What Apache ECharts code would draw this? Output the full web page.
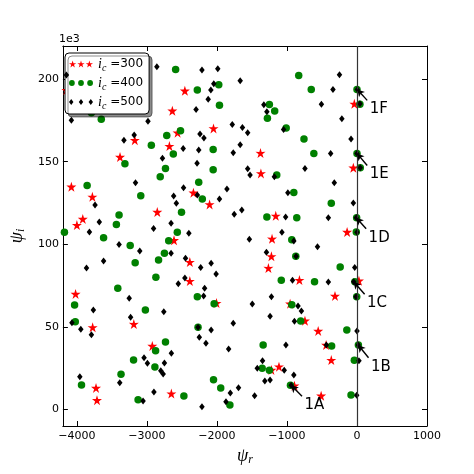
<!DOCTYPE html>
<html><head><meta charset="utf-8">
<script src="https://cdn.jsdelivr.net/npm/echarts@6/dist/echarts.min.js"></script>
<style>html,body{margin:0;padding:0;background:#fff}#c{width:474px;height:474px}</style>
</head><body><div id="c"></div><script>
// values: psi_r (x) and psi_i in units of 1e3 (y)
const ic300_psiR = [-4150,-2458,-2637,-2562,-3173,-2679,-3384,-4079,-2049,-1378,-1372,-38,-52,-3779,-2336,-2105,-2852,-3916,-4000,-2613,-2387,-2387,-4019,-3775,-3187,-1160,-141,-1213,-1222,-1265,-822,28,-314,-2006,-955,-743,-554,-2923,-3727,-3713,-2651,-441,-367,-1222,-1114,-893,-512];
const ic300_psiI = [193.3,192.9,180.8,167.5,163.0,159.4,152.8,134.8,170.1,155.2,142.9,185.0,146.3,128.7,131.2,124.1,119.5,115.3,111.6,102.4,89.2,77.7,69.9,49.7,51.7,117.2,107.4,103.3,92.7,85.6,78.3,77.9,68.7,64.4,64.0,53.7,47.5,38.4,13.0,5.6,9.6,39.0,29.9,23.9,25.9,14.4,8.3];

const ic400_psiR = [-2590,-2280,-3793,-3652,-2520,-2717,-2937,-2623,-3314,-2735,-2810,-2260,-3854,-832,-653,-1974,-1964,-1251,-1175,-1279,-1011,-757,-616,-2054,-2054,-1146,0,42,0,47,-902,-3088,-2209,-3398,-2506,-3436,-2566,-4178,-3619,-2689,-3239,-2750,-3168,-2834,-2872,-3416,-2280,-4033,-3022,-4023,-2270,-367,-1287,-860,-10,-931,-874,-240,-1081,-606,-4,-2040,-931,-804,-145,-5,-30,20,-2735,-2876,-3191,-2886,-3370,-3934,-3126,-2472,-1340,-362,-1354,-1251,-38,-2049,-1946,-1815,-85,-950];
const ic400_psiI = [205.8,193.3,179.6,175.6,168.7,165.9,160.0,154.6,148.7,145.9,140.8,137.6,135.6,202.2,193.7,196.5,184.2,184.6,180.6,176.2,170.3,163.7,155.0,157.4,145.1,141.9,193.7,184.8,155.0,146.3,131.4,129.3,127.4,117.7,119.3,112.0,107.2,107.2,103.9,102.1,99.3,94.5,88.8,90.4,80.0,73.3,68.2,63.2,60.2,53.1,49.7,124.8,116.5,116.0,107.4,102.7,92.7,86.2,78.2,77.3,68.2,64.0,63.4,53.5,48.1,116.0,77.3,39.0,40.8,35.6,29.9,25.7,21.3,14.8,5.9,8.2,39.0,38.4,24.9,23.7,29.8,18.0,13.0,2.7,8.8,14.6];

const ic500_psiR = [-4150,-2858,-2214,-4079,-2985,-2298,-2242,-2186,-3328,-3182,-2482,-2260,-2778,-2284,-3163,-2477,-1988,-1668,-2045,-2087,-2125,-250,-343,5,-1330,-1287,-508,-216,42,-1781,-1636,-1561,-1048,-1668,-1767,-85,-376,0,47,-743,-1561,-1527,-1180,-324,-1857,-2618,-2280,-3741,-2580,-3680,-2655,-2905,-3821,-2401,-3398,-3102,-2655,-2449,-3619,-3863,-2232,-2458,-2552,-2176,-2190,-3253,-3765,-2759,-3233,-4071,-3944,-2270,-987,-1964,-52,-1753,-1645,-1019,-409,-10,-1072,-1537,-902,-564,-1293,-870,-2083,-2012,-32,-921,-409,-47,-1222,-1495,-842,-794,-1241,-1767,-893,-2083,0,-3793,-2252,-2157,-2651,-3041,-2993,-2750,-2802,-2768,-3958,-3388,-2900,-3055,-2214,-1015,-1833,-437,18,-1349,-1424,-1039,28,-902,-1316,-1241,-1692,-1809,-940,-1462,-4,-1871,0,-14];
const ic500_psiI = [202.4,207.4,205.4,175.1,174.5,181.6,166.7,164.3,163.0,166.1,158.0,157.0,152.0,149.0,137.2,134.2,206.2,198.9,197.1,193.3,187.7,202.6,193.7,193.7,184.4,180.2,184.8,175.9,185.0,172.5,170.7,167.5,169.5,160.2,155.4,163.7,155.0,155.0,146.3,145.9,145.7,141.9,140.8,137.2,133.4,129.2,129.8,123.7,124.8,113.4,112.7,109.6,107.4,106.6,99.9,95.9,94.5,91.5,89.8,85.6,86.0,79.6,76.1,73.3,68.7,67.3,60.2,59.2,55.8,52.5,48.5,49.7,131.2,127.4,124.9,118.1,120.7,116.5,116.0,116.0,107.2,103.0,101.9,98.5,95.1,92.7,88.5,82.0,86.0,78.2,77.1,77.3,68.2,63.8,62.6,59.6,56.4,52.2,53.4,48.1,47.5,45.3,43.7,40.1,34.0,31.3,28.0,28.1,23.5,21.5,19.8,16.2,10.6,5.1,1.7,39.0,36.6,39.0,39.0,29.5,24.9,23.7,29.5,20.9,17.2,17.8,13.2,10.0,14.6,8.3,8.6,4.7,107.2,68.2];

const icValues = [300, 400, 500];

// annotations
const annotNames = ['1A','1B','1C','1D','1E','1F'];
const annotPointR = [-940, 18, -47, -10, 0, 5];
const annotPointI = [14.6, 39.0, 77.3, 116.0, 155.0, 193.7];
const annotTailR = [-785, 165, 109, 131, 146, 146];
const annotTailI = [8.0, 31.3, 69.7, 109.4, 147.7, 187.1];
const annotTextR = [-743, 207, 151, 173, 188, 188];
const annotTextI = [6.2, 29.5, 67.9, 107.6, 145.9, 185.3];

const xTicks = [-4000,-3000,-2000,-1000,0,1000];
const yTicks = [0,50,100,150,200];

const pair = (xs, ys) => xs.map((x, i) => [x, ys[i]]);
const fmt = v => (v < 0 ? '\u2212' + (-v) : String(v));

const STAR = 'path://M5 0 L6.12 3.46 L9.76 3.45 L6.81 5.59 L7.94 9.05 L5 6.9 L2.06 9.05 L3.19 5.59 L0.24 3.45 L3.88 3.46 Z';
function starAt(o){return `M${5+o} 0 L${6.12+o} 3.46 L${9.76+o} 3.45 L${6.81+o} 5.59 L${7.94+o} 9.05 L${5+o} 6.9 L${2.06+o} 9.05 L${3.19+o} 5.59 L${0.24+o} 3.45 L${3.88+o} 3.46 Z`;}
function circAt(o){return `M${o} 3.5 A3.5 3.5 0 1 1 ${7+o} 3.5 A3.5 3.5 0 1 1 ${o} 3.5 Z`;}
function diaAt(o){return `M${2.5+o} 0 L${5+o} 3.5 L${2.5+o} 7 L${o} 3.5 Z`;}
const legIcons = [
  'path://' + [0,11,22].map(starAt).join(' '),
  'path://' + [0,11,22].map(circAt).join(' '),
  'path://' + [0,11,22].map(diaAt).join(' ')
];
const colors = ['#ff0000', '#008000', '#000000'];
const names = icValues.map(v => 'ic' + v);

const axisCommon = {
  type: 'value',
  splitLine: {show: false},
  axisLine: {show: true, onZero: false, lineStyle: {color: '#000', width: 1}},
  axisTick: {show: true, inside: true, length: 5, lineStyle: {color: '#000', width: 1}}
};

const option = {
  animation: false,
  backgroundColor: '#fff',
  grid: {left: 59, right: 47, top: 46, bottom: 48, containLabel: false},
  xAxis: [
    Object.assign({}, axisCommon, {
      position: 'bottom', min: -4200, max: 1000, splitNumber: 5,
      axisLabel: {margin: 5, color: '#000', fontSize: 11, fontFamily: 'DejaVu Sans',
        formatter: v => xTicks.includes(v) ? fmt(v) : ''},
      name: '{p|ψ}{s|r}', nameLocation: 'middle', nameGap: 18,
      nameTextStyle: {rich: {
        p: {fontFamily: 'Liberation Serif', fontStyle: 'italic', fontSize: 18, color: '#000', lineHeight: 20},
        s: {fontFamily: 'Liberation Serif', fontStyle: 'italic', fontSize: 12, color: '#000', verticalAlign: 'bottom', lineHeight: 10}
      }}
    }),
    Object.assign({}, axisCommon, {
      position: 'top', min: -4200, max: 1000, splitNumber: 5, axisLabel: {show: false}
    })
  ],
  yAxis: [
    Object.assign({}, axisCommon, {
      position: 'left', min: -10, max: 220, splitNumber: 5,
      axisLabel: {margin: 4, color: '#000', fontSize: 11, fontFamily: 'DejaVu Sans',
        formatter: v => yTicks.includes(v) ? fmt(v) : ''},
      name: '{p|ψ}{s|i}', nameLocation: 'middle', nameGap: 32, nameRotate: 90,
      nameTextStyle: {rich: {
        p: {fontFamily: 'Liberation Serif', fontStyle: 'italic', fontSize: 18, color: '#000', lineHeight: 20},
        s: {fontFamily: 'Liberation Serif', fontStyle: 'italic', fontSize: 12, color: '#000', verticalAlign: 'bottom', lineHeight: 10}
      }}
    }),
    Object.assign({}, axisCommon, {
      position: 'right', min: -10, max: 220, splitNumber: 5, axisLabel: {show: false}
    })
  ],
  legend: {
    show: true, orient: 'vertical', left: 65, top: 53,
    data: names.map((n, i) => ({name: n, icon: legIcons[i]})),
    itemWidth: 24, itemHeight: 9, itemGap: 3, itemTextGap: 10,
    padding: [4, 6, 3, 4],
    backgroundColor: '#fff', borderColor: '#000', borderWidth: 1, borderRadius: 4,
    shadowColor: 'rgba(0,0,0,0.45)', shadowOffsetX: 3, shadowOffsetY: 3, shadowBlur: 0,
    selectedMode: false,
    formatter: n => `{i|i}{s|c}{t| =${n.slice(2)}}`,
    textStyle: {color: '#000', fontSize: 11, fontFamily: 'DejaVu Sans', rich: {
      i: {fontFamily: 'Liberation Serif', fontStyle: 'italic', fontSize: 14, color: '#000', lineHeight: 18},
      s: {fontFamily: 'Liberation Serif', fontStyle: 'italic', fontSize: 10, color: '#000', verticalAlign: 'bottom', lineHeight: 10},
      t: {fontFamily: 'DejaVu Sans', fontSize: 12, color: '#000', lineHeight: 18}
    }}
  },
  graphic: [{type: 'text', left: 59, top: 34, style: {text: '1e3', fontSize: 11, fontFamily: 'DejaVu Sans', fill: '#000'}}],
  series: [
    {
      type: 'scatter', name: 'zeroLine', data: [], z: 1, silent: true,
      markLine: {silent: true, symbol: ['none','none'], label: {show: false},
        lineStyle: {color: '#333', width: 1.2, type: 'solid'},
        data: [{xAxis: 0}]}
    },
    {
      type: 'scatter', name: names[0], data: pair(ic300_psiR, ic300_psiI), z: 2,
      symbol: STAR, symbolSize: 10, itemStyle: {color: colors[0], opacity: 1}
    },
    {
      type: 'scatter', name: names[1], data: pair(ic400_psiR, ic400_psiI), z: 3,
      symbol: 'circle', symbolSize: 7.5, itemStyle: {color: colors[1], opacity: 1}
    },
    {
      type: 'scatter', name: names[2], data: pair(ic500_psiR, ic500_psiI), z: 4,
      symbol: 'diamond', symbolSize: [5.5, 7], itemStyle: {color: colors[2], opacity: 1}
    },
    {
      type: 'scatter', name: 'annot', data: [], z: 5, silent: true,
      markLine: {silent: true, symbol: ['none', 'arrow'], symbolSize: [6, 7], label: {show: false},
        lineStyle: {color: '#000', width: 1.4, type: 'solid'},
        data: annotNames.map((n, i) => [{coord: [annotTailR[i], annotTailI[i]]}, {coord: [annotPointR[i], annotPointI[i]]}])},
      markPoint: {silent: true, symbol: 'circle', symbolSize: 1, itemStyle: {color: 'rgba(0,0,0,0)'},
        label: {show: true, position: [0, -1], align: 'left', verticalAlign: 'top', color: '#000', fontSize: 15, fontFamily: 'DejaVu Sans',
          formatter: p => p.name},
        data: annotNames.map((n, i) => ({name: n, coord: [annotTextR[i], annotTextI[i]]}))}
    }
  ]
};
const chart = echarts.init(document.getElementById('c'));
chart.setOption(option);
</script></body></html>
